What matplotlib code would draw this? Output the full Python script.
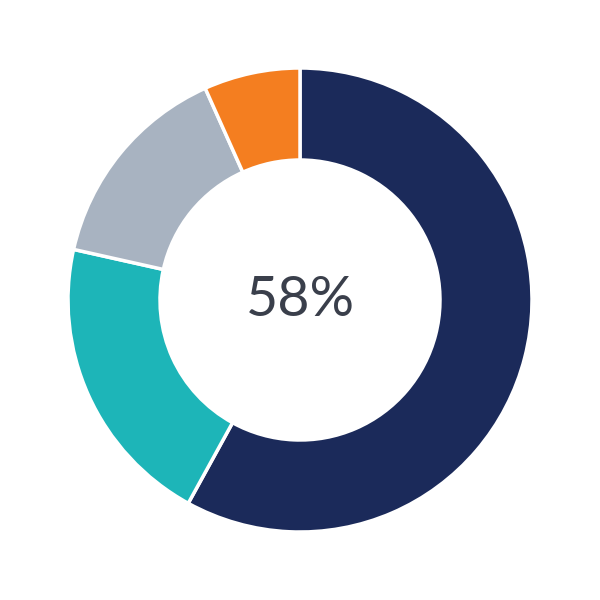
import matplotlib
matplotlib.use("Agg")
import matplotlib.pyplot as plt

labels = ["Navy", "Teal", "Gray", "Orange"]
values = [58, 20.5, 14.8, 6.7]
colors = ["#1b2a5a", "#1db5b8", "#a8b3c1", "#f47e20"]
center_text = "58%"

fig = plt.figure(figsize=(6, 6), dpi=100)
ax = fig.add_axes([0, 0, 1, 1])
ax.pie(values, colors=colors, startangle=90, counterclock=False,
       radius=1.0,
       wedgeprops=dict(width=92/232, edgecolor="white", linewidth=2.5))
lim = 300 / 232
ax.set_xlim(-lim, lim)
ax.set_ylim(-lim, lim)
ax.set_aspect("equal")
ax.axis("off")
ax.text(0, 0, center_text, ha="center", va="center", fontsize=40,
        family=["Lato", "DejaVu Sans"], color="#3a3f4b")
fig.savefig("out.png", dpi=100, facecolor="white")
